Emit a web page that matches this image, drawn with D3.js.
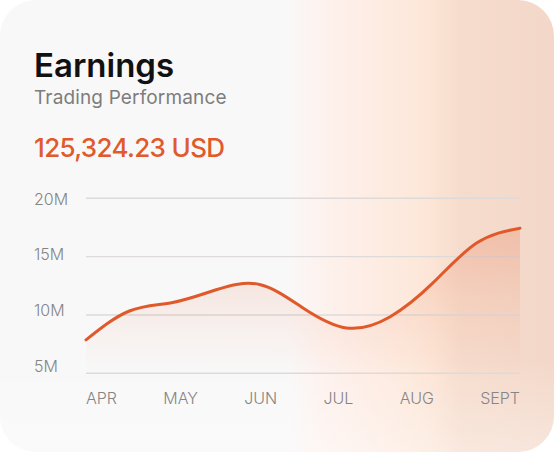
<!DOCTYPE html>
<html>
<head>
<meta charset="utf-8">
<script src="https://cdn.jsdelivr.net/npm/d3@7/dist/d3.min.js"></script>
<style>
  html, body { margin: 0; padding: 0; background: #ffffff; }
  svg { display: block; }
  text { font-family: Inter, "Open Sans", sans-serif; }
</style>
</head>
<body>
<svg id="chart" width="554" height="452"></svg>
<script>
// ---- data ----
const months = ["APR", "MAY", "JUN", "JUL", "AUG", "SEPT"];
// earnings in millions, read at half-month steps from APR to SEPT
const earnings = [7.86, 10.34, 11.07, 12.16, 12.61, 10.6, 8.89, 9.83, 12.77, 16.16, 17.44];
const yTicks = [5, 10, 15, 20];
const tickLabels = ["5M", "10M", "15M", "20M"];
const title = "Earnings";
const subtitle = "Trading Performance";
const total = "125,324.23 USD";

const W = 554, H = 452;
const svg = d3.select("#chart");
const defs = svg.append("defs");

// background gradient
const bg = defs.append("linearGradient").attr("id", "bgGrad")
  .attr("x1", "0").attr("x2", "1").attr("y1", "0").attr("y2", "0");
[[0, "#f8f8f8"], [0.52, "#f9f8f8"], [0.58, "#fdf2ee"], [0.66, "#fdede5"],
 [0.74, "#fde9dc"], [0.78, "#fce5d6"], [0.83, "#f6dccd"], [1, "#f3d8c9"]]
  .forEach(([o, c]) => bg.append("stop").attr("offset", o).attr("stop-color", c));

const bgV = defs.append("linearGradient").attr("id", "bgV")
  .attr("x1", "0").attr("x2", "0").attr("y1", "0").attr("y2", "1");
bgV.append("stop").attr("offset", 0).attr("stop-color", "#ffffff").attr("stop-opacity", 0);
bgV.append("stop").attr("offset", 0.8).attr("stop-color", "#ffffff").attr("stop-opacity", 0);
bgV.append("stop").attr("offset", 1).attr("stop-color", "#ffffff").attr("stop-opacity", 0.35);

svg.append("rect").attr("width", W).attr("height", H).attr("rx", 36).attr("ry", 36)
  .attr("fill", "url(#bgGrad)");
svg.append("rect").attr("width", W).attr("height", H).attr("rx", 36).attr("ry", 36)
  .attr("fill", "url(#bgV)");

// ---- scales ----
const x = d3.scaleLinear().domain([0, earnings.length - 1]).range([86, 520]);
const y = d3.scaleLinear().domain([5, 20]).range([373.3, 198.3]);
const yLabel = d3.scaleLinear().domain([5, 20]).range([365.5, 198.5]);

// titles
svg.append("text").attr("x", 34).attr("y", 77).text(title)
  .attr("font-size", 33).attr("font-weight", 600).attr("fill", "#111111");
svg.append("text").attr("x", 34).attr("y", 104).text(subtitle)
  .attr("font-size", 19).attr("font-weight", 400).attr("fill", "#7d7d7d")
  .attr("letter-spacing", 0.15);
svg.append("text").attr("x", 34).attr("y", 157).text(total)
  .attr("font-size", 26).attr("font-weight", 500).attr("fill", "#e05a2b")
  .attr("letter-spacing", -0.65);

// grid
svg.append("g").selectAll("line").data(yTicks).join("line")
  .attr("x1", 86).attr("x2", 520)
  .attr("y1", d => y(d)).attr("y2", d => y(d))
  .attr("stroke", "#dedada").attr("stroke-width", 1.4);

// y labels
svg.append("g").selectAll("text").data(yTicks).join("text")
  .attr("x", 34).attr("y", d => yLabel(d))
  .attr("dominant-baseline", "central")
  .attr("font-size", 16).attr("font-weight", 300).attr("fill", "#858585")
  .text((d, i) => tickLabels[i]);

// area gradient
const ag = defs.append("linearGradient").attr("id", "areaGrad")
  .attr("gradientUnits", "userSpaceOnUse").attr("x1", 0).attr("x2", 0)
  .attr("y1", 225).attr("y2", 373);
ag.append("stop").attr("offset", 0).attr("stop-color", "#e05a2b").attr("stop-opacity", 0.22);
ag.append("stop").attr("offset", 0.5).attr("stop-color", "#e05a2b").attr("stop-opacity", 0.09);
ag.append("stop").attr("offset", 1).attr("stop-color", "#e05a2b").attr("stop-opacity", 0);

const curve = d3.curveNatural;
const area = d3.area().x((d, i) => x(i)).y0(y(5)).y1(d => y(d)).curve(curve);
const line = d3.line().x((d, i) => x(i)).y(d => y(d)).curve(curve);

svg.append("path").datum(earnings).attr("d", area).attr("fill", "url(#areaGrad)");
svg.append("path").datum(earnings).attr("d", line)
  .attr("fill", "none").attr("stroke", "#e0592a").attr("stroke-width", 3)
  .attr("stroke-linecap", "round").attr("stroke-linejoin", "round");

// x labels: spread between first-left and last-right with equal gaps
const xl = svg.append("g").selectAll("text").data(months).join("text")
  .attr("y", 404).attr("font-size", 16).attr("font-weight", 300).attr("fill", "#858585")
  .text(d => d);
const widths = [];
xl.each(function () { widths.push(this.getComputedTextLength()); });
const totalW = d3.sum(widths);
const gap = (520 - 86 - totalW) / (months.length - 1);
let cx = 86;
xl.each(function (d, i) {
  d3.select(this).attr("x", cx);
  cx += widths[i] + gap;
});
</script>
</body>
</html>
